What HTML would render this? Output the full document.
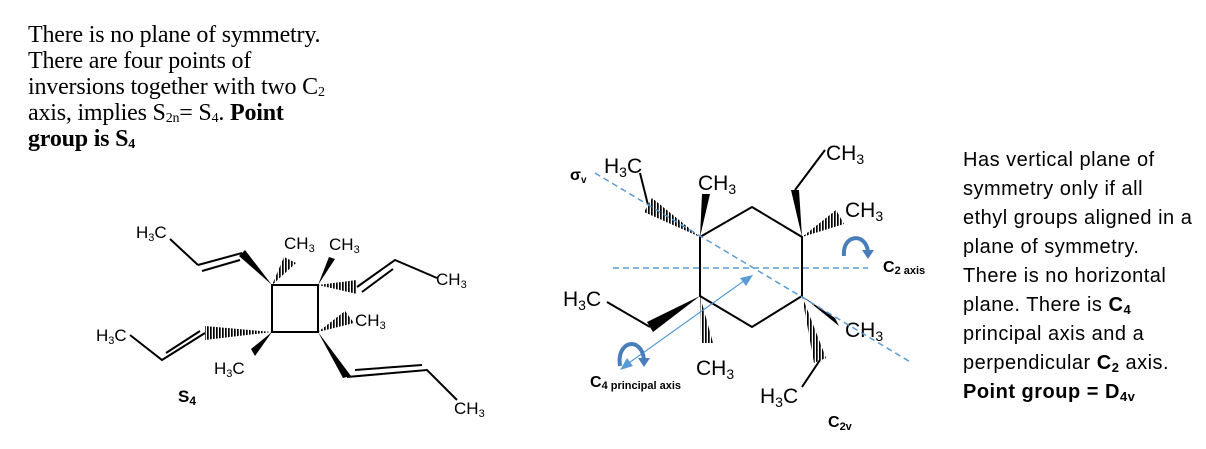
<html><head><style>
body{margin:0;width:1206px;height:449px;background:#fff;overflow:hidden;position:relative}
.l{position:absolute;left:28px;top:22px;font:24px/26px "Liberation Serif",serif;color:#000;letter-spacing:-0.2px}
.l sub{font-size:14px;vertical-align:-2px;line-height:0}
.r{position:absolute;left:963px;top:146px;font:20px/29px "Liberation Sans",sans-serif;color:#000;letter-spacing:0.5px}
.r sub{font-size:13px;vertical-align:-3px;line-height:0}
</style></head><body>
<div class="l">There is no plane of symmetry.<br>There are four points of<br>inversions together with two C<sub>2</sub><br>axis, implies S<sub>2n</sub>= S<sub>4</sub>. <b>Point<br>group is S<sub>4</sub></b></div>
<div class="r">Has vertical plane of<br>symmetry only if all<br>ethyl groups aligned in a<br>plane of symmetry.<br>There is no horizontal<br>plane. There is <b>C<sub>4</sub></b><br>principal axis and a<br>perpendicular <b>C<sub>2</sub></b> axis.<br><b>Point group = D<sub>4v</sub></b></div>
<svg width="1206" height="449" style="position:absolute;left:0;top:0" font-family="Liberation Sans,sans-serif">
<defs>
<pattern id="h" width="3" height="3" patternUnits="userSpaceOnUse"><rect width="1.7" height="3" fill="#000"/></pattern>
</defs>
<g stroke="#000" stroke-width="2" fill="none">
<rect x="272" y="285" width="46" height="47"/>
<polyline points="198,265 242,253"/><line x1="202" y1="271" x2="240" y2="260"/>
<polyline points="198,265 170,239"/>
<polyline points="357,287 395,260 437,278"/><line x1="362" y1="292" x2="393" y2="269"/>
<polyline points="130,335 162,360 205,333"/><line x1="166" y1="353" x2="200" y2="331"/>
<polyline points="347,377 427,370 457,400"/><line x1="355" y1="370" x2="422" y2="365"/>
<polygon points="700,237 752,207 802,237 802,296 752,327 700,296"/>
<polyline points="648,205 640,173"/>
<polyline points="795,190 825,150"/>
<polyline points="650,327 607,302"/>
<polyline points="820,360 802,387"/>
</g>
<g fill="#000">
<polygon points="272,285 239,256 245,250"/>
<polygon points="318,285 329,257 335,259"/>
<polygon points="318,332 343,378 351,376"/>
<polygon points="272,332 251,349 255,356"/>
<polygon points="700,237 702,194 710,194"/>
<polygon points="802,237 791,190 799,190"/>
<polygon points="700,296 647,322 653,332"/>
<polygon points="802,296 835,318 839,326"/>
</g>
<g fill="url(#h)">
<polygon points="272,285 284,257 296,263"/>
<polygon points="318,285 357,280 357,294"/>
<polygon points="318,332 345,311 354,323"/>
<polygon points="272,332 205,326 205,340"/>
<polygon points="700,237 644,212 652,198"/>
<polygon points="802,237 836,210 844,224"/>
<polygon points="700,296 701,343 713,343"/>
<polygon points="802,296 814,363 826,358"/>
</g>
<g font-size="17" fill="#000">
<text x="136" y="238">H<tspan font-size="11" dy="3">3</tspan><tspan dy="-3">C</tspan></text>
<text x="284" y="249">CH<tspan font-size="11" dy="3">3</tspan></text>
<text x="329" y="250">CH<tspan font-size="11" dy="3">3</tspan></text>
<text x="436" y="285">CH<tspan font-size="11" dy="3">3</tspan></text>
<text x="355" y="326">CH<tspan font-size="11" dy="3">3</tspan></text>
<text x="96" y="341">H<tspan font-size="11" dy="3">3</tspan><tspan dy="-3">C</tspan></text>
<text x="214" y="374">H<tspan font-size="11" dy="3">3</tspan><tspan dy="-3">C</tspan></text>
<text x="454" y="414">CH<tspan font-size="11" dy="3">3</tspan></text>
</g>
<text x="178" y="402" font-size="17" font-weight="bold">S<tspan font-size="12" dy="3">4</tspan></text>
<g font-size="21" fill="#000">
<text x="604" y="173">H<tspan font-size="14" dy="4">3</tspan><tspan dy="-4">C</tspan></text>
<text x="698" y="190">CH<tspan font-size="14" dy="4">3</tspan></text>
<text x="826" y="160">CH<tspan font-size="14" dy="4">3</tspan></text>
<text x="845" y="217">CH<tspan font-size="14" dy="4">3</tspan></text>
<text x="563" y="306">H<tspan font-size="14" dy="4">3</tspan><tspan dy="-4">C</tspan></text>
<text x="696" y="375">CH<tspan font-size="14" dy="4">3</tspan></text>
<text x="845" y="337">CH<tspan font-size="14" dy="4">3</tspan></text>
<text x="760" y="403">H<tspan font-size="14" dy="4">3</tspan><tspan dy="-4">C</tspan></text>
</g>
<g stroke="#5b9bd5" stroke-width="1.5" stroke-dasharray="6 4" fill="none">
<line x1="595" y1="173" x2="912" y2="363"/>
<line x1="613" y1="268" x2="868" y2="268"/>
</g>
<line x1="626" y1="365" x2="748" y2="278" stroke="#5b9bd5" stroke-width="1.2"/>
<polygon points="753,275 740,278 746,286" fill="#5b9bd5"/>
<polygon points="620,370 633,366 627,358" fill="#5b9bd5"/>
<g fill="none" stroke="#4a7ebb" stroke-width="4">
<path d="M844,256 C842,234 866,232 868,252"/>
<path d="M620,366 C616,340 642,336 644,360"/>
</g>
<polygon points="862,250 874,250 868,259" fill="#4a7ebb"/>
<polygon points="638,358 650,358 644,367" fill="#4a7ebb"/>
<text x="570" y="180" font-size="16" font-weight="bold">σ<tspan font-size="10" dy="3">v</tspan></text>
<text x="883" y="272" font-size="16" font-weight="bold">C<tspan font-size="11" dy="2">2 axis</tspan></text>
<text x="590" y="387" font-size="16" font-weight="bold">C<tspan font-size="11" dy="2">4 principal axis</tspan></text>
<text x="828" y="427" font-size="16" font-weight="bold">C<tspan font-size="11" dy="3">2v</tspan></text>
</svg>
</body></html>
